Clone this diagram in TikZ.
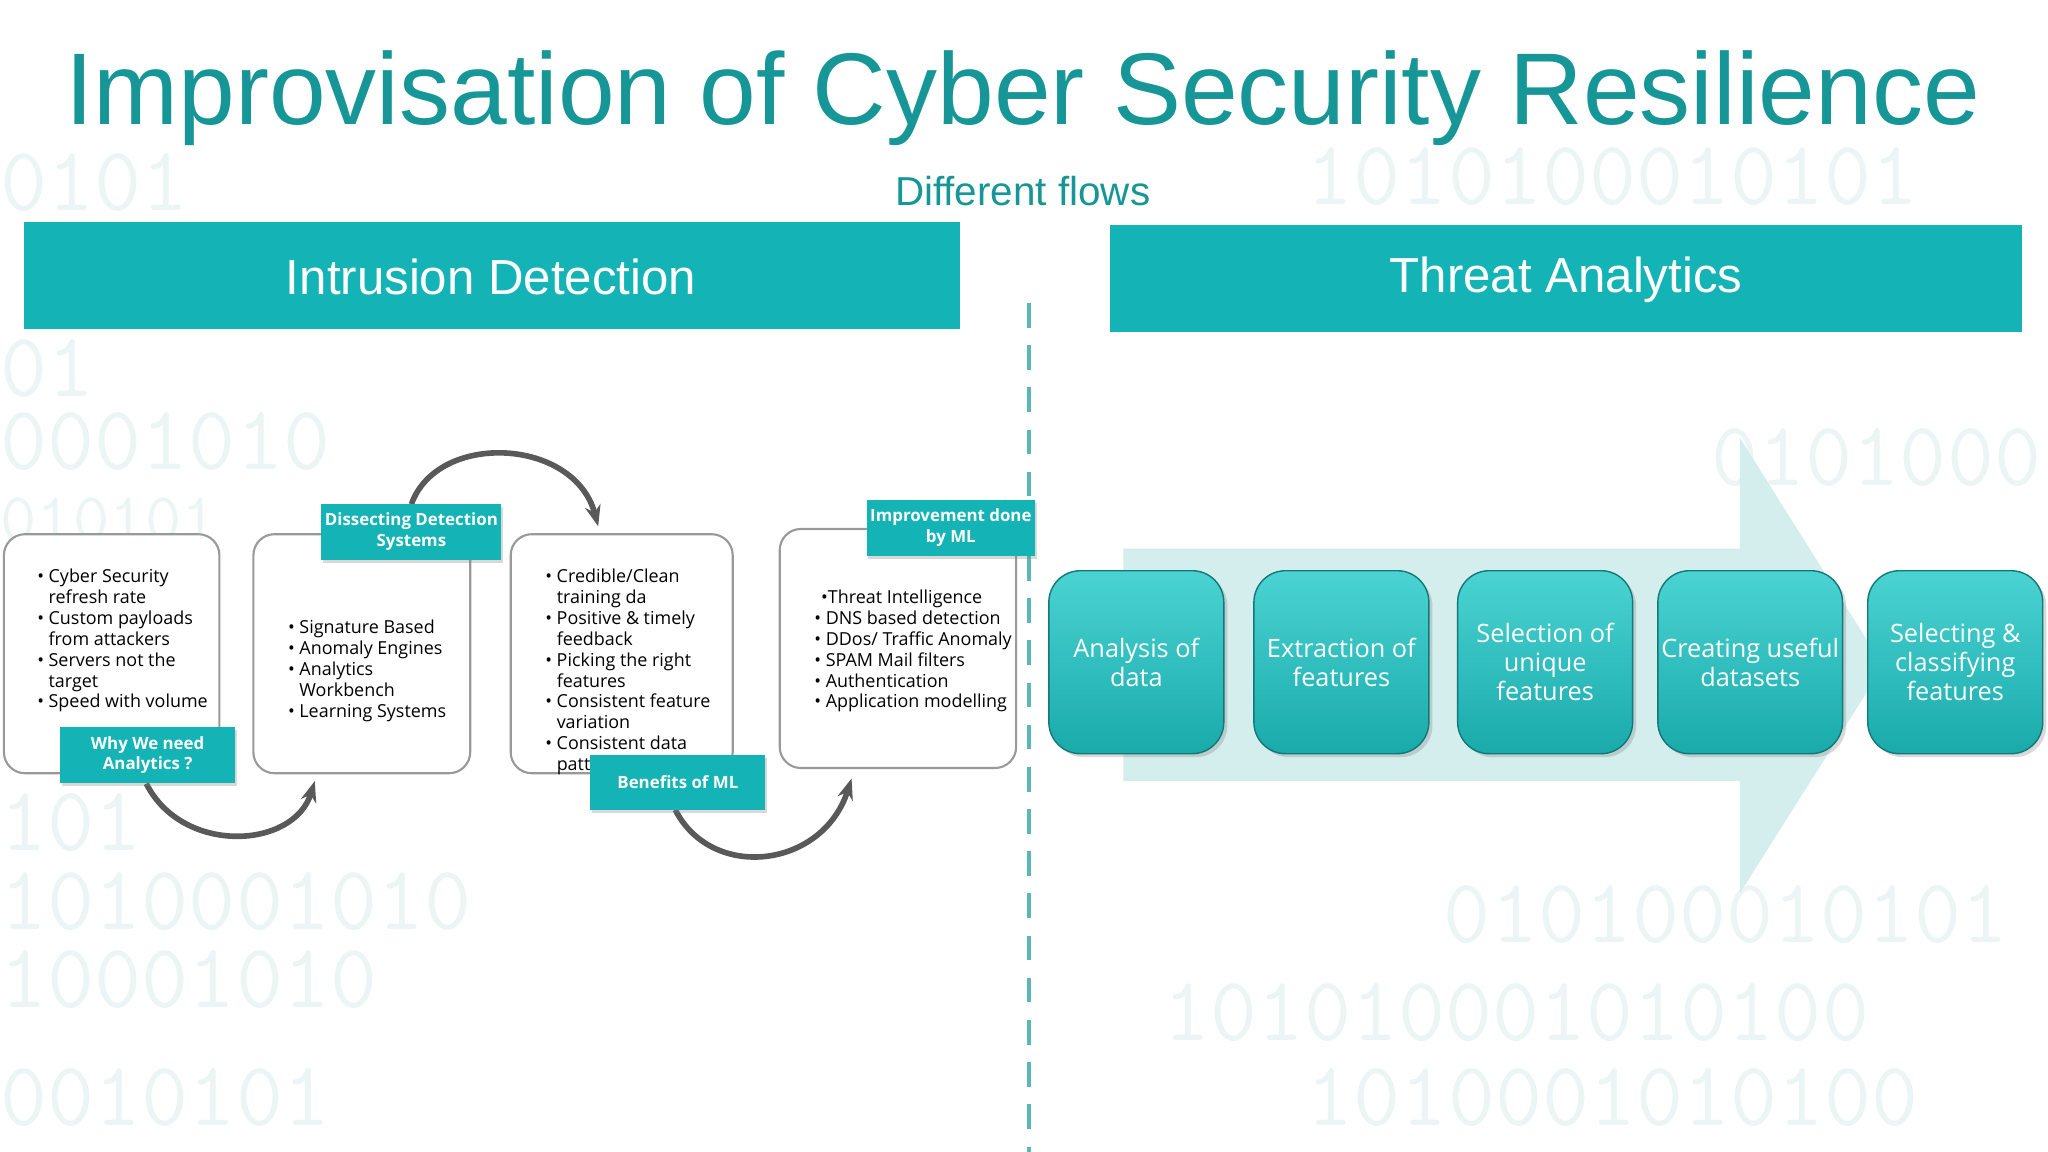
\documentclass[tikz,border=0pt]{standalone}
\usepackage{fontspec}
\setmainfont{Liberation Sans}
\newfontfamily\bodyfont{Open Sans}
\usetikzlibrary{shadows,arrows.meta}
\definecolor{teal1}{RGB}{22,150,150}
\definecolor{band}{RGB}{20,180,182}
\definecolor{tile}{RGB}{30,200,200}
\definecolor{arrowbg}{RGB}{212,238,238}
\definecolor{digits}{RGB}{236,245,245}
\tikzset{
  x=0.013061cm, y=-0.013061cm,
  card/.style={draw=gray!80, rounded corners=6pt, line width=0.6pt, fill=white},
  tag/.style={fill=band, text=white, font=\bodyfont\bfseries\fontsize{4.8}{5.8}\selectfont, align=center, inner sep=1pt, drop shadow={opacity=0.3, shadow xshift=0.5pt, shadow yshift=-1pt}},
  bullets/.style={font=\bodyfont\fontsize{5.1}{5.95}\selectfont, align=left, anchor=north west, inner sep=0pt},
  curl/.style={draw=gray!70!black, line width=1.6pt, -{Stealth[length=6pt]}},
  flowstep/.style={rounded corners=9pt, text=white, top color=tile!80!white, bottom color=tile!85!black, draw=tile!60!black, line width=0.4pt, font=\bodyfont\fontsize{7.2}{8.2}\selectfont, align=center, inner sep=1pt, drop shadow={opacity=0.3, shadow xshift=1pt, shadow yshift=-1pt}, minimum width=1.75cm, minimum height=1.83cm},
  bin/.style={text=digits, font=\ttfamily\fontsize{26}{28}\selectfont, anchor=west, inner sep=0pt}
}
\begin{document}
\begin{tikzpicture}
\useasboundingbox (0,0) rectangle (1568,882);
% faint background digits
\node[bin] (b2) at (0,140) {0101};
\node[bin] (b3) at (0,282) {01};
\node[bin] (b4) at (0,338) {0001010};
\node[bin, font=\ttfamily\fontsize{20}{22}\selectfont] (b5) at (0,398) {010101};
\node[bin] (b6) at (0,630) {101};
\node[bin] (b7) at (0,690) {1010001010};
\node[bin] (b8) at (0,750) {10001010};
\node[bin] (b9) at (0,840) {0010101};
\node[bin] (b10) at (1000,135) {1010100010101};
\node[bin] (b11) at (1310,350) {0101000};
\node[bin] (b12) at (1105,700) {010100010101};
\node[bin] (b13) at (890,775) {101010001010100};
\node[bin] (b14) at (1000,840) {1010001010100};

% title
\node[text=teal1, font=\fontsize{29}{32}\selectfont] (title) at (783,75) {Improvisation of Cyber Security Resilience};
\node[text=teal1, font=\fontsize{11.5}{14}\selectfont] (sub) at (783,146) {Different flows};

% headers
\fill[band] (18,170) rectangle (735,252);
\node[text=white, font=\fontsize{14}{17}\selectfont] (h1) at (376,212) {Intrusion Detection};
\fill[band] (850,172) rectangle (1548,254);
\node[text=white, font=\fontsize{14}{17}\selectfont] (h2) at (1199,214) {Threat Analytics};

\draw[teal1!70, line width=1.2pt, dash pattern=on 7pt off 5pt] (788,232) -- (788,882);

% left flow: arcs
\coordinate (a1s) at (112,600); \coordinate (a1e) at (241,598);
\coordinate (a2s) at (315,386); \coordinate (a2e) at (458,403);
\coordinate (a3s) at (517,620); \coordinate (a3e) at (652,596);
\draw[curl] (a1s) .. controls (140,655) and (225,650) .. (a1e);
\draw[curl] (a2s) .. controls (335,330) and (440,335) .. (a2e);
\draw[curl] (a3s) .. controls (545,675) and (630,665) .. (a3e);

% cards
\draw[card] (3,409) rectangle (168,592);
\draw[card] (194,409) rectangle (360,592);
\draw[card] (391,409) rectangle (561,592);
\draw[card] (597,405) rectangle (778,588);

\node[bullets] (t1) at (28,435) {\textbullet\ Cyber Security\\\phantom{\textbullet\ }refresh rate\\\textbullet\ Custom payloads\\\phantom{\textbullet\ }from attackers\\\textbullet\ Servers not the\\\phantom{\textbullet\ }target\\\textbullet\ Speed with volume};
\node[bullets] (t2) at (220,474) {\textbullet\ Signature Based\\\textbullet\ Anomaly Engines\\\textbullet\ Analytics\\\phantom{\textbullet\ }Workbench\\\textbullet\ Learning Systems};
\node[bullets] (t3) at (417,435) {\textbullet\ Credible/Clean\\\phantom{\textbullet\ }training da\\\textbullet\ Positive \& timely\\\phantom{\textbullet\ }feedback\\\textbullet\ Picking the right\\\phantom{\textbullet\ }features\\\textbullet\ Consistent feature\\\phantom{\textbullet\ }variation\\\textbullet\ Consistent data\\\phantom{\textbullet\ }patte};
\node[bullets] (t4) at (623,451) {\phantom{\textbullet}\textbullet Threat Intelligence\\\textbullet\ DNS based detection\\\textbullet\ DDos/ Traffic Anomaly\\\textbullet\ SPAM Mail filters\\\textbullet\ Authentication\\\textbullet\ Application modelling};

% tags
\node[tag, minimum width=1.75cm, minimum height=0.56cm] (g1) at (113,578) {Why We need\\Analytics ?};
\node[tag, minimum width=1.75cm, minimum height=0.56cm] (g2) at (315,407) {Dissecting Detection\\Systems};
\node[tag, minimum width=1.75cm, minimum height=0.55cm] (g3) at (519,599) {Benefits of ML};
\node[tag, minimum width=1.58cm, minimum height=0.56cm] (g4) at (728,404) {Improvement done\\by ML};

% right flow: big arrow
\fill[arrowbg] (860,420) -- (1332,420) -- (1332,335) -- (1442,510) -- (1332,684) -- (1332,598) -- (860,598) -- cycle;

\node[flowstep] (s1) at (870,507) {Analysis of\\data};
\node[flowstep] (s2) at (1027,507) {Extraction of\\features};
\node[flowstep] (s3) at (1183,507) {Selection of\\unique\\features};
\node[flowstep] (s4) at (1340,507) {Creating useful\\datasets};
\node[flowstep] (s5) at (1497,507) {Selecting \&\\classifying\\features};
\end{tikzpicture}
\end{document}
